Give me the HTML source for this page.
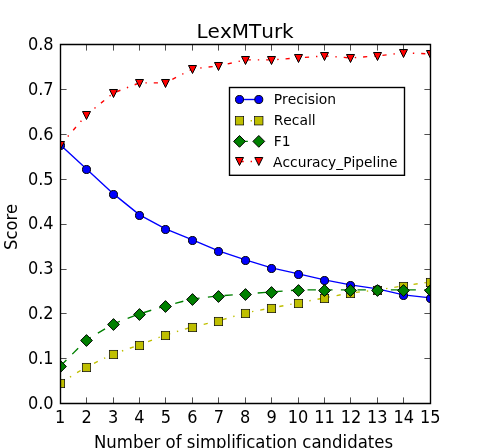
<!DOCTYPE html><html><head><meta charset="utf-8"><style>html,body{margin:0;padding:0;background:#fff;}svg{display:block;}text{font-family:"DejaVu Sans",sans-serif;fill:#000;font-kerning:none;font-variant-ligatures:none;}</style></head><body>
<svg width="477" height="448" viewBox="0 0 477 448">
<rect width="477" height="448" fill="#fff"/>
<defs><clipPath id="ax"><rect x="60.5" y="44.5" width="370" height="359"/></clipPath></defs>
<g clip-path="url(#ax)">
<polyline points="60.5,144.9 86.5,168.9 113.5,193.9 139.5,214.9 165.5,228.9 192.5,239.9 218.5,250.9 245.5,259.9 271.5,267.9 298.5,273.9 324.5,279.9 350.5,284.9 377.5,288.9 403.5,294.9 430.5,297.9" fill="none" stroke="#0000ff" stroke-width="1.39" stroke-linecap="butt" stroke-linejoin="round"/>
<circle cx="60.5" cy="145.5" r="4.01" fill="#0000ff" stroke="#000" stroke-width="1"/>
<circle cx="86.5" cy="169.5" r="4.01" fill="#0000ff" stroke="#000" stroke-width="1"/>
<circle cx="113.5" cy="194.5" r="4.01" fill="#0000ff" stroke="#000" stroke-width="1"/>
<circle cx="139.5" cy="215.5" r="4.01" fill="#0000ff" stroke="#000" stroke-width="1"/>
<circle cx="165.5" cy="229.5" r="4.01" fill="#0000ff" stroke="#000" stroke-width="1"/>
<circle cx="192.5" cy="240.5" r="4.01" fill="#0000ff" stroke="#000" stroke-width="1"/>
<circle cx="218.5" cy="251.5" r="4.01" fill="#0000ff" stroke="#000" stroke-width="1"/>
<circle cx="245.5" cy="260.5" r="4.01" fill="#0000ff" stroke="#000" stroke-width="1"/>
<circle cx="271.5" cy="268.5" r="4.01" fill="#0000ff" stroke="#000" stroke-width="1"/>
<circle cx="298.5" cy="274.5" r="4.01" fill="#0000ff" stroke="#000" stroke-width="1"/>
<circle cx="324.5" cy="280.5" r="4.01" fill="#0000ff" stroke="#000" stroke-width="1"/>
<circle cx="350.5" cy="285.5" r="4.01" fill="#0000ff" stroke="#000" stroke-width="1"/>
<circle cx="377.5" cy="289.5" r="4.01" fill="#0000ff" stroke="#000" stroke-width="1"/>
<circle cx="403.5" cy="295.5" r="4.01" fill="#0000ff" stroke="#000" stroke-width="1"/>
<circle cx="430.5" cy="298.5" r="4.01" fill="#0000ff" stroke="#000" stroke-width="1"/>
<polyline points="60.5,382.9 86.5,366.9 113.5,353.9 139.5,344.9 165.5,334.9 192.5,326.9 218.5,320.9 245.5,312.9 271.5,307.9 298.5,302.9 324.5,297.9 350.5,292.9 377.5,289.9 403.5,285.9 430.5,281.9" fill="none" stroke="#bfbf00" stroke-width="1.39" stroke-dasharray="4.17 6.94 1.39 6.94" stroke-linecap="butt" stroke-linejoin="round"/>
<rect x="56.33" y="379.33" width="8.33" height="8.33" fill="#bfbf00" stroke="#000" stroke-width="0.69"/>
<rect x="82.33" y="363.33" width="8.33" height="8.33" fill="#bfbf00" stroke="#000" stroke-width="0.69"/>
<rect x="109.33" y="350.33" width="8.33" height="8.33" fill="#bfbf00" stroke="#000" stroke-width="0.69"/>
<rect x="135.33" y="341.33" width="8.33" height="8.33" fill="#bfbf00" stroke="#000" stroke-width="0.69"/>
<rect x="161.33" y="331.33" width="8.33" height="8.33" fill="#bfbf00" stroke="#000" stroke-width="0.69"/>
<rect x="188.33" y="323.33" width="8.33" height="8.33" fill="#bfbf00" stroke="#000" stroke-width="0.69"/>
<rect x="214.33" y="317.33" width="8.33" height="8.33" fill="#bfbf00" stroke="#000" stroke-width="0.69"/>
<rect x="241.33" y="309.33" width="8.33" height="8.33" fill="#bfbf00" stroke="#000" stroke-width="0.69"/>
<rect x="267.33" y="304.33" width="8.33" height="8.33" fill="#bfbf00" stroke="#000" stroke-width="0.69"/>
<rect x="294.33" y="299.33" width="8.33" height="8.33" fill="#bfbf00" stroke="#000" stroke-width="0.69"/>
<rect x="320.33" y="294.33" width="8.33" height="8.33" fill="#bfbf00" stroke="#000" stroke-width="0.69"/>
<rect x="346.33" y="289.33" width="8.33" height="8.33" fill="#bfbf00" stroke="#000" stroke-width="0.69"/>
<rect x="373.33" y="286.33" width="8.33" height="8.33" fill="#bfbf00" stroke="#000" stroke-width="0.69"/>
<rect x="399.33" y="282.33" width="8.33" height="8.33" fill="#bfbf00" stroke="#000" stroke-width="0.69"/>
<rect x="426.33" y="278.33" width="8.33" height="8.33" fill="#bfbf00" stroke="#000" stroke-width="0.69"/>
<polyline points="60.5,365.9 86.5,339.9 113.5,323.9 139.5,313.9 165.5,305.9 192.5,298.9 218.5,295.9 245.5,293.9 271.5,291.9 298.5,289.9 324.5,289.9 350.5,289.9 377.5,289.9 403.5,289.9 430.5,289.9" fill="none" stroke="#008000" stroke-width="1.39" stroke-dasharray="8.33 8.33" stroke-linecap="butt" stroke-linejoin="round"/>
<polygon points="60.5,360.61 66.39,366.5 60.5,372.39 54.61,366.5" fill="#008000" stroke="#000" stroke-width="1" stroke-linejoin="miter"/>
<polygon points="86.5,334.61 92.39,340.5 86.5,346.39 80.61,340.5" fill="#008000" stroke="#000" stroke-width="1" stroke-linejoin="miter"/>
<polygon points="113.5,318.61 119.39,324.5 113.5,330.39 107.61,324.5" fill="#008000" stroke="#000" stroke-width="1" stroke-linejoin="miter"/>
<polygon points="139.5,308.61 145.39,314.5 139.5,320.39 133.61,314.5" fill="#008000" stroke="#000" stroke-width="1" stroke-linejoin="miter"/>
<polygon points="165.5,300.61 171.39,306.5 165.5,312.39 159.61,306.5" fill="#008000" stroke="#000" stroke-width="1" stroke-linejoin="miter"/>
<polygon points="192.5,293.61 198.39,299.5 192.5,305.39 186.61,299.5" fill="#008000" stroke="#000" stroke-width="1" stroke-linejoin="miter"/>
<polygon points="218.5,290.61 224.39,296.5 218.5,302.39 212.61,296.5" fill="#008000" stroke="#000" stroke-width="1" stroke-linejoin="miter"/>
<polygon points="245.5,288.61 251.39,294.5 245.5,300.39 239.61,294.5" fill="#008000" stroke="#000" stroke-width="1" stroke-linejoin="miter"/>
<polygon points="271.5,286.61 277.39,292.5 271.5,298.39 265.61,292.5" fill="#008000" stroke="#000" stroke-width="1" stroke-linejoin="miter"/>
<polygon points="298.5,284.61 304.39,290.5 298.5,296.39 292.61,290.5" fill="#008000" stroke="#000" stroke-width="1" stroke-linejoin="miter"/>
<polygon points="324.5,284.61 330.39,290.5 324.5,296.39 318.61,290.5" fill="#008000" stroke="#000" stroke-width="1" stroke-linejoin="miter"/>
<polygon points="350.5,284.61 356.39,290.5 350.5,296.39 344.61,290.5" fill="#008000" stroke="#000" stroke-width="1" stroke-linejoin="miter"/>
<polygon points="377.5,284.61 383.39,290.5 377.5,296.39 371.61,290.5" fill="#008000" stroke="#000" stroke-width="1" stroke-linejoin="miter"/>
<polygon points="403.5,284.61 409.39,290.5 403.5,296.39 397.61,290.5" fill="#008000" stroke="#000" stroke-width="1" stroke-linejoin="miter"/>
<polygon points="430.5,284.61 436.39,290.5 430.5,296.39 424.61,290.5" fill="#008000" stroke="#000" stroke-width="1" stroke-linejoin="miter"/>
<polyline points="60.5,144.9 86.5,114.9 113.5,92.9 139.5,82.9 165.5,82.9 192.5,68.9 218.5,65.9 245.5,59.9 271.5,59.9 298.5,57.9 324.5,55.9 350.5,57.9 377.5,55.9 403.5,52.9 430.5,53.9" fill="none" stroke="#ff0000" stroke-width="1.39" stroke-dasharray="4.17 6.94 1.39 6.94" stroke-linecap="butt" stroke-linejoin="round"/>
<polygon points="56.49,141.49 64.51,141.49 60.5,149.51" fill="#ff0000" stroke="#000" stroke-width="1"/>
<polygon points="82.49,111.49 90.51,111.49 86.5,119.51" fill="#ff0000" stroke="#000" stroke-width="1"/>
<polygon points="109.49,89.49 117.51,89.49 113.5,97.51" fill="#ff0000" stroke="#000" stroke-width="1"/>
<polygon points="135.49,79.49 143.51,79.49 139.5,87.51" fill="#ff0000" stroke="#000" stroke-width="1"/>
<polygon points="161.49,79.49 169.51,79.49 165.5,87.51" fill="#ff0000" stroke="#000" stroke-width="1"/>
<polygon points="188.49,65.49 196.51,65.49 192.5,73.51" fill="#ff0000" stroke="#000" stroke-width="1"/>
<polygon points="214.49,62.49 222.51,62.49 218.5,70.51" fill="#ff0000" stroke="#000" stroke-width="1"/>
<polygon points="241.49,56.49 249.51,56.49 245.5,64.51" fill="#ff0000" stroke="#000" stroke-width="1"/>
<polygon points="267.49,56.49 275.51,56.49 271.5,64.51" fill="#ff0000" stroke="#000" stroke-width="1"/>
<polygon points="294.49,54.49 302.51,54.49 298.5,62.51" fill="#ff0000" stroke="#000" stroke-width="1"/>
<polygon points="320.49,52.49 328.51,52.49 324.5,60.51" fill="#ff0000" stroke="#000" stroke-width="1"/>
<polygon points="346.49,54.49 354.51,54.49 350.5,62.51" fill="#ff0000" stroke="#000" stroke-width="1"/>
<polygon points="373.49,52.49 381.51,52.49 377.5,60.51" fill="#ff0000" stroke="#000" stroke-width="1"/>
<polygon points="399.49,49.49 407.51,49.49 403.5,57.51" fill="#ff0000" stroke="#000" stroke-width="1"/>
<polygon points="426.49,50.49 434.51,50.49 430.5,58.51" fill="#ff0000" stroke="#000" stroke-width="1"/>
</g>
<path d="M60.5 403.5v-6.1M60.5 44.5v6.1M86.5 403.5v-6.1M86.5 44.5v6.1M113.5 403.5v-6.1M113.5 44.5v6.1M139.5 403.5v-6.1M139.5 44.5v6.1M165.5 403.5v-6.1M165.5 44.5v6.1M192.5 403.5v-6.1M192.5 44.5v6.1M218.5 403.5v-6.1M218.5 44.5v6.1M245.5 403.5v-6.1M245.5 44.5v6.1M271.5 403.5v-6.1M271.5 44.5v6.1M298.5 403.5v-6.1M298.5 44.5v6.1M324.5 403.5v-6.1M324.5 44.5v6.1M350.5 403.5v-6.1M350.5 44.5v6.1M377.5 403.5v-6.1M377.5 44.5v6.1M403.5 403.5v-6.1M403.5 44.5v6.1M430.5 403.5v-6.1M430.5 44.5v6.1M60.5 403.5h6.1M430.5 403.5h-6.1M60.5 358.5h6.1M430.5 358.5h-6.1M60.5 313.5h6.1M430.5 313.5h-6.1M60.5 269.5h6.1M430.5 269.5h-6.1M60.5 224.5h6.1M430.5 224.5h-6.1M60.5 179.5h6.1M430.5 179.5h-6.1M60.5 134.5h6.1M430.5 134.5h-6.1M60.5 89.5h6.1M430.5 89.5h-6.1M60.5 44.5h6.1M430.5 44.5h-6.1" stroke="#000" stroke-width="0.69" fill="none"/>
<path d="M60.5 44.5H430.5M60.5 403.5H430.5M60.5 44.5V403.5M430.5 44.5V403.5" fill="none" stroke="#000" stroke-width="1.39" stroke-linecap="square"/>
<text transform="translate(53.6,408.9) scale(0.97,1.07)" font-size="16.67" text-anchor="end">0.0</text>
<text transform="translate(53.6,364.02) scale(0.97,1.07)" font-size="16.67" text-anchor="end">0.1</text>
<text transform="translate(53.6,319.15) scale(0.97,1.07)" font-size="16.67" text-anchor="end">0.2</text>
<text transform="translate(53.6,274.27) scale(0.97,1.07)" font-size="16.67" text-anchor="end">0.3</text>
<text transform="translate(53.6,229.4) scale(0.97,1.07)" font-size="16.67" text-anchor="end">0.4</text>
<text transform="translate(53.6,184.52) scale(0.97,1.07)" font-size="16.67" text-anchor="end">0.5</text>
<text transform="translate(53.6,139.65) scale(0.97,1.07)" font-size="16.67" text-anchor="end">0.6</text>
<text transform="translate(53.6,94.77) scale(0.97,1.07)" font-size="16.67" text-anchor="end">0.7</text>
<text transform="translate(53.6,49.9) scale(0.97,1.07)" font-size="16.67" text-anchor="end">0.8</text>
<text transform="translate(60.2,422.9) scale(0.97,1.07)" font-size="16.67" text-anchor="middle">1</text>
<text transform="translate(86.63,422.9) scale(0.97,1.07)" font-size="16.67" text-anchor="middle">2</text>
<text transform="translate(113.06,422.9) scale(0.97,1.07)" font-size="16.67" text-anchor="middle">3</text>
<text transform="translate(139.49,422.9) scale(0.97,1.07)" font-size="16.67" text-anchor="middle">4</text>
<text transform="translate(165.91,422.9) scale(0.97,1.07)" font-size="16.67" text-anchor="middle">5</text>
<text transform="translate(192.34,422.9) scale(0.97,1.07)" font-size="16.67" text-anchor="middle">6</text>
<text transform="translate(218.77,422.9) scale(0.97,1.07)" font-size="16.67" text-anchor="middle">7</text>
<text transform="translate(245.2,422.9) scale(0.97,1.07)" font-size="16.67" text-anchor="middle">8</text>
<text transform="translate(271.63,422.9) scale(0.97,1.07)" font-size="16.67" text-anchor="middle">9</text>
<text transform="translate(298.06,422.9) scale(0.97,1.07)" font-size="16.67" text-anchor="middle">10</text>
<text transform="translate(324.49,422.9) scale(0.97,1.07)" font-size="16.67" text-anchor="middle">11</text>
<text transform="translate(350.91,422.9) scale(0.97,1.07)" font-size="16.67" text-anchor="middle">12</text>
<text transform="translate(377.34,422.9) scale(0.97,1.07)" font-size="16.67" text-anchor="middle">13</text>
<text transform="translate(403.77,422.9) scale(0.97,1.07)" font-size="16.67" text-anchor="middle">14</text>
<text transform="translate(430.2,422.9) scale(0.97,1.07)" font-size="16.67" text-anchor="middle">15</text>
<text transform="translate(243.5,447.7) scale(0.993,1.07)" font-size="16.67" text-anchor="middle">Number of simplification candidates</text>
<text transform="translate(16.9,226.9) rotate(-90) scale(0.98,1.07)" font-size="16.67" text-anchor="middle">Score</text>
<text x="245.1" y="37.9" font-size="20" text-anchor="middle">LexMTurk</text>
<rect x="229.5" y="87.5" width="175" height="87.8" fill="#fff" stroke="#000" stroke-width="1.39"/>
<line x1="239.5" y1="99.5" x2="258.8" y2="99.5" stroke="#0000ff" stroke-width="1.39"/>
<circle cx="239.5" cy="99.5" r="4.01" fill="#0000ff" stroke="#000" stroke-width="1"/>
<circle cx="258.8" cy="99.5" r="4.01" fill="#0000ff" stroke="#000" stroke-width="1"/>
<text x="273.7" y="104" font-size="13.89">Precision</text>
<line x1="239.5" y1="120.8" x2="258.8" y2="120.8" stroke="#bfbf00" stroke-width="1.39" stroke-dasharray="4.17 6.94 1.39 6.94"/>
<rect x="235.33" y="116.63" width="8.33" height="8.33" fill="#bfbf00" stroke="#000" stroke-width="0.69"/>
<rect x="254.63" y="116.63" width="8.33" height="8.33" fill="#bfbf00" stroke="#000" stroke-width="0.69"/>
<text x="273.7" y="125" font-size="13.89">Recall</text>
<line x1="239.5" y1="141.4" x2="258.8" y2="141.4" stroke="#008000" stroke-width="1.39" stroke-dasharray="8.33 8.33"/>
<polygon points="239.5,135.51 245.39,141.4 239.5,147.29 233.61,141.4" fill="#008000" stroke="#000" stroke-width="1" stroke-linejoin="miter"/>
<polygon points="258.8,135.51 264.69,141.4 258.8,147.29 252.91,141.4" fill="#008000" stroke="#000" stroke-width="1" stroke-linejoin="miter"/>
<text x="273.7" y="146" font-size="13.89">F1</text>
<line x1="239.5" y1="161.5" x2="258.8" y2="161.5" stroke="#ff0000" stroke-width="1.39" stroke-dasharray="4.17 6.94 1.39 6.94"/>
<polygon points="235.49,157.49 243.51,157.49 239.5,165.51" fill="#ff0000" stroke="#000" stroke-width="1"/>
<polygon points="254.79,157.49 262.81,157.49 258.8,165.51" fill="#ff0000" stroke="#000" stroke-width="1"/>
<text transform="translate(273.0,167) scale(0.995,1)" font-size="13.89">Accuracy_Pipeline</text>
</svg></body></html>
